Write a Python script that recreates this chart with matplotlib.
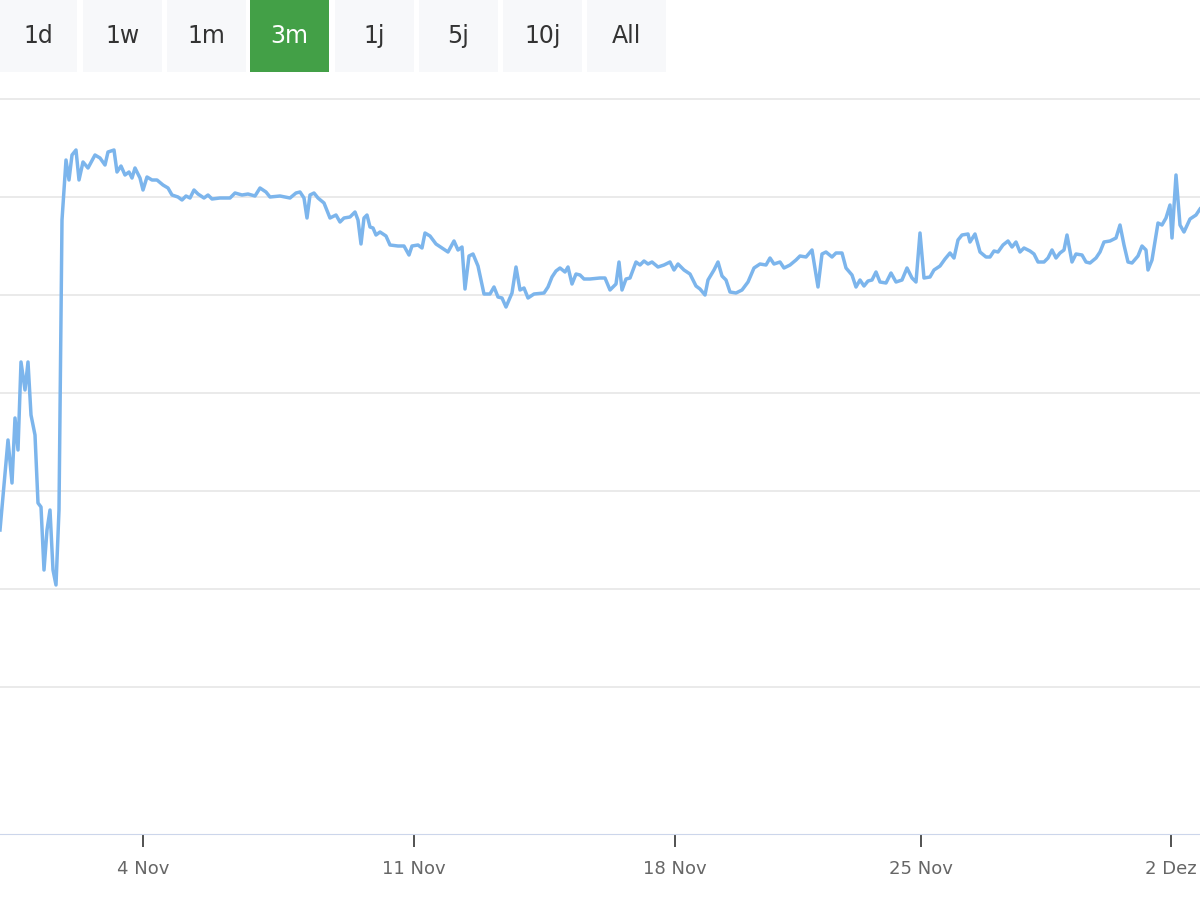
import matplotlib
matplotlib.use("Agg")
import matplotlib.pyplot as plt
from matplotlib.patches import Rectangle

buttons = ["1d", "1w", "1m", "3m", "1j", "5j", "10j", "All"]
active = "3m"
tick_labels = ["4 Nov", "11 Nov", "18 Nov", "25 Nov", "2 Dez"]
tick_t = [143, 414, 675, 921, 1171]

pts = [(0,530),(8,440),(12,483),(15,418),(18,450),(21,362),(25,390),(28,362),(31,415),(35,435),(38,503),(41,507),(44,570),(47,530),(50,510),(53,570),(56,585),(59,510),(62,220),(66,160),(69,180),(72,155),(76,150),(79,180),(83,162),(88,168),(95,155),(100,158),(105,165),(108,152),(114,150),(117,172),(121,166),(125,175),(129,172),(132,178),(135,168),(140,178),(143,190),(147,177),(152,180),(157,180),(163,185),(168,188),(172,195),(178,197),(182,200),(186,196),(190,198),(194,190),(198,194),(204,198),(208,195),(212,199),(220,198),(230,198),(235,193),(242,195),(248,194),(255,196),(260,188),(266,192),(270,197),(280,196),(290,198),(296,193),(300,192),(304,198),(307,218),(310,195),(314,193),(318,198),(324,203),(330,218),(336,215),(340,222),(344,218),(350,217),(355,212),(358,220),(361,244),(364,218),(367,215),(370,227),(373,228),(376,235),(380,232),(386,236),(390,245),(398,246),(404,246),(409,255),(412,246),(418,245),(422,248),(425,233),(430,236),(436,244),(442,248),(448,252),(454,241),(458,250),(462,247),(465,289),(469,256),(473,254),(478,266),(484,294),(490,294),(494,287),(498,297),(502,298),(506,307),(512,293),(516,267),(520,290),(524,288),(528,298),(534,294),(544,293),(548,287),(552,277),(556,271),(560,268),(565,272),(568,267),(572,284),(576,274),(580,275),(584,279),(590,279),(600,278),(605,278),(610,290),(616,284),(619,262),(622,290),(626,279),(630,278),(636,262),(640,265),(644,261),(648,264),(652,262),(658,267),(664,265),(670,262),(674,270),(678,264),(684,270),(690,274),(696,286),(700,289),(705,295),(708,280),(714,270),(718,262),(722,276),(726,280),(730,292),(736,293),(742,290),(748,282),(754,268),(760,264),(766,265),(770,258),(774,264),(780,262),(784,268),(790,265),(796,260),(800,256),(806,257),(812,250),(818,287),(822,254),(826,252),(832,257),(836,253),(842,253),(846,268),(852,275),(856,287),(860,280),(864,286),(868,281),(872,280),(876,272),(880,282),(886,283),(891,273),(896,282),(902,280),(907,268),(912,278),(916,282),(920,233),(924,278),(930,277),(934,270),(940,266),(945,259),(950,253),(954,258),(958,240),(962,235),(968,234),(970,242),(975,234),(980,252),(986,257),(990,257),(994,251),(998,252),(1003,245),(1008,241),(1012,247),(1016,242),(1020,252),(1024,248),(1030,251),(1034,254),(1038,262),(1044,262),(1048,258),(1052,250),(1056,258),(1060,253),(1064,250),(1067,235),(1072,262),(1076,254),(1082,255),(1086,262),(1090,263),(1096,258),(1100,252),(1104,242),(1110,241),(1116,238),(1120,225),(1124,245),(1128,262),(1132,263),(1138,256),(1142,246),(1146,250),(1148,270),(1152,260),(1158,223),(1162,225),(1166,218),(1170,205),(1172,238),(1176,175),(1180,225),(1184,232),(1190,219),(1196,215),(1200,209)]
t = [p[0] for p in pts]
price = [834 - p[1] for p in pts]
grid_vals = [147, 245, 343, 441, 539, 637, 735]

fig = plt.figure(figsize=(12, 9), dpi=100)
fig.patch.set_facecolor("white")
ax = fig.add_axes([0, 66/900, 1, 754/900])
ax.plot(t, price, color="#7cb5ec", lw=2.5, solid_joinstyle="round")
ax.set_xlim(0, 1200)
ax.set_ylim(0, 754)
for g in grid_vals:
    ax.axhline(g, color="#e6e6e6", lw=1.2, zorder=0)
ax.set_yticks([])
ax.set_xticks(tick_t)
ax.set_xticklabels(tick_labels, fontsize=13, color="#666666")
ax.tick_params(axis="x", length=9, width=1.2, color="#333333", pad=10)
for s in ["top", "right", "left"]:
    ax.spines[s].set_visible(False)
ax.spines["bottom"].set_color("#ccd6eb")

lefts = [0, 83, 167, 250, 335, 419, 503, 587]
for x0, b in zip(lefts, buttons):
    w = 79 if b != "1d" else 77
    on = b == active
    fig.patches.append(Rectangle((x0/1200, 1-72/900), w/1200, 72/900,
                                 transform=fig.transFigure,
                                 facecolor="#43a047" if on else "#f7f8fa",
                                 edgecolor="none"))
    fig.text((x0 + w/2)/1200, 1-36/900, b, ha="center", va="center",
             fontsize=17, color="white" if on else "#333333")

fig.savefig("out.png", dpi=100)
